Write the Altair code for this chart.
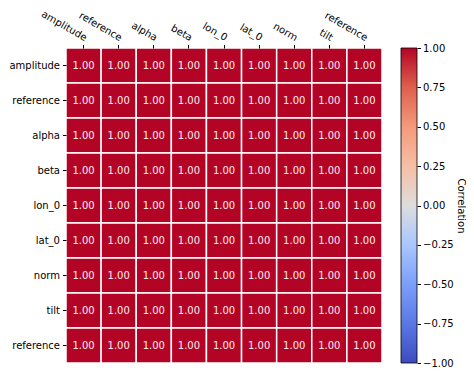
import altair as alt
import pandas as pd

labels = ["amplitude", "reference", "alpha", "beta", "lon_0", "lat_0", "norm", "tilt", "reference"]
corr = [
    [1.00, 1.00, 1.00, 1.00, 1.00, 1.00, 1.00, 1.00, 1.00],
    [1.00, 1.00, 1.00, 1.00, 1.00, 1.00, 1.00, 1.00, 1.00],
    [1.00, 1.00, 1.00, 1.00, 1.00, 1.00, 1.00, 1.00, 1.00],
    [1.00, 1.00, 1.00, 1.00, 1.00, 1.00, 1.00, 1.00, 1.00],
    [1.00, 1.00, 1.00, 1.00, 1.00, 1.00, 1.00, 1.00, 1.00],
    [1.00, 1.00, 1.00, 1.00, 1.00, 1.00, 1.00, 1.00, 1.00],
    [1.00, 1.00, 1.00, 1.00, 1.00, 1.00, 1.00, 1.00, 1.00],
    [1.00, 1.00, 1.00, 1.00, 1.00, 1.00, 1.00, 1.00, 1.00],
    [1.00, 1.00, 1.00, 1.00, 1.00, 1.00, 1.00, 1.00, 1.00],
]
cbar_ticks = [-1.0, -0.75, -0.5, -0.25, 0.0, 0.25, 0.5, 0.75, 1.0]

cw_offsets = [0.0, 0.125, 0.25, 0.375, 0.5, 0.625, 0.75, 0.875, 1.0]
cw_colors = ["#3b4cc0", "#5a78e4", "#7b9ff9", "#a9c6fd", "#dddddd",
             "#f6bfa6", "#f49a7b", "#de604d", "#b40426"]

rows = []
for i in range(len(labels)):
    for j in range(len(labels)):
        rows.append({"xi": j, "yi": i, "value": corr[i][j]})
df = pd.DataFrame(rows)

lab_arr = "[" + ",".join("'%s'" % s for s in labels) + "]"
lab_expr = lab_arr + "[datum.value]"

FONT = "DejaVu Sans"

color_scale = alt.Scale(domain=[-1 + 2 * o for o in cw_offsets], range=cw_colors)

base = alt.Chart(df).encode(
    x=alt.X("xi:O", title=None,
            scale=alt.Scale(paddingInner=0, paddingOuter=0),
            axis=alt.Axis(orient="top", labelExpr=lab_expr, labelAngle=30,
                          labelAlign="right", labelBaseline="bottom",
                          labelFontSize=10, labelFont=FONT, labelColor="#000",
                          tickSize=3.5, tickColor="#000", labelPadding=2,
                          domain=False)),
    y=alt.Y("yi:O", title=None,
            scale=alt.Scale(paddingInner=0, paddingOuter=0),
            axis=alt.Axis(labelExpr=lab_expr, labelFontSize=10, labelFont=FONT,
                          labelColor="#000", tickSize=3.5, tickColor="#000",
                          labelPadding=3, domain=False)),
)

rects = base.mark_rect(stroke="white", strokeWidth=1.5).encode(
    color=alt.Color("value:Q", scale=color_scale, legend=None)
)
texts = base.mark_text(color="#fbeef0", fontSize=10, font=FONT).encode(
    text=alt.Text("value:Q", format=".2f")
)
heat = (rects + texts).properties(width=316, height=315)

cbar_df = pd.DataFrame({"lo": [-1.0], "hi": [1.0]})
grad = alt.Gradient(
    gradient="linear",
    stops=[alt.GradientStop(offset=o, color=c) for o, c in zip(cw_offsets, cw_colors)],
    x1=0, x2=0, y1=1, y2=0,
)
cbar = alt.Chart(cbar_df).mark_rect(color=grad, stroke="#000", strokeWidth=0.8).encode(
    y=alt.Y("lo:Q", scale=alt.Scale(domain=[-1, 1], nice=False, zero=False),
            axis=alt.Axis(orient="right", values=cbar_ticks, format=".2f",
                          title="Correlation", titleAngle=90, titleFont=FONT,
                          titleFontSize=10, titleFontWeight="normal", titleColor="#000",
                          titlePadding=2, labelFont=FONT, labelFontSize=10,
                          labelColor="#000", tickSize=3.5, tickColor="#000",
                          labelPadding=2, domain=False, grid=False)),
    y2="hi:Q",
    x=alt.value(0), x2=alt.value(16),
).properties(width=16, height=315)

chart = alt.hconcat(heat, cbar, spacing=17).configure_view(stroke=None).properties(
    background="white", padding=0
)

chart.save("out.html", embed_options={"renderer": "svg", "actions": False})
